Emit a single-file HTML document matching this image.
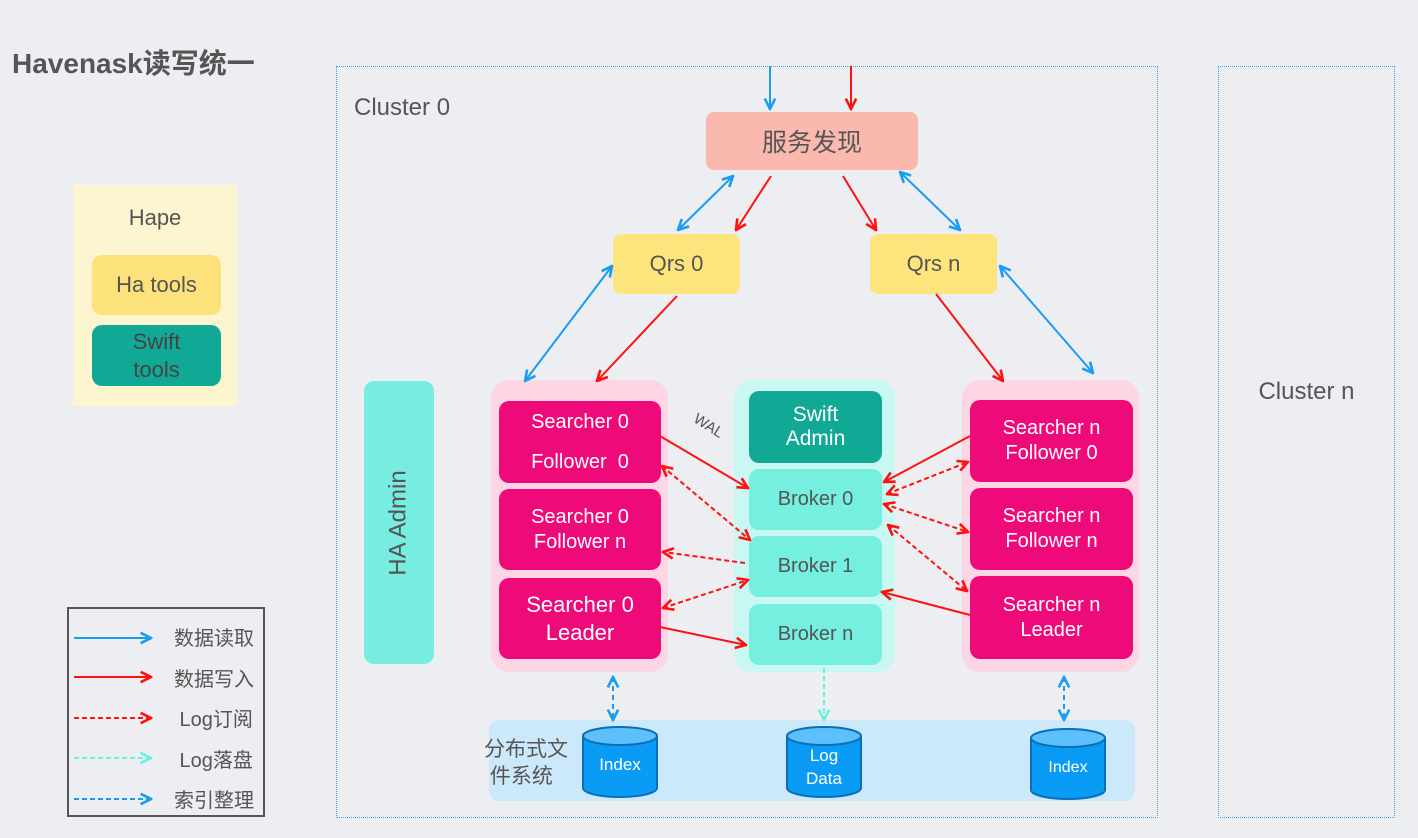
<!DOCTYPE html>
<html><head><meta charset="utf-8"><style>
body{margin:0;width:1418px;height:838px;background:#eceef2;position:relative;overflow:hidden;font-family:"Liberation Sans","Noto Sans CJK SC",sans-serif;}
.a{position:absolute;box-sizing:border-box;display:flex;align-items:center;justify-content:center;text-align:center;}
.s{background:#ee0a78;color:#fff;border-radius:10px;font-size:20px;line-height:25px;}
.b{background:#74efe0;color:#555;border-radius:10px;font-size:20px;}
</style></head><body>
<div style="position:absolute;left:12px;top:42px;font-size:28px;font-weight:bold;color:#555;">Havenask读写统一</div>
<div class="a" style="left:336px;top:66px;width:822px;height:752px;border:1px dotted #4a9ee8;"></div>
<div class="a" style="left:1218px;top:66px;width:177px;height:752px;border:1px dotted #4a9ee8;"></div>
<div class="a" style="left:1218px;top:376px;width:177px;height:32px;font-size:24px;color:#555;">Cluster n</div>
<div style="position:absolute;left:354px;top:94px;font-size:24px;color:#555;">Cluster 0</div>

<div class="a" style="left:73px;top:185px;width:164px;height:221px;background:#fdf5d0;align-items:flex-start;padding-top:20px;font-size:22px;color:#555;">Hape</div>
<div class="a" style="left:92px;top:255px;width:129px;height:60px;background:#fde17a;border-radius:10px;font-size:22px;color:#555;">Ha tools</div>
<div class="a" style="left:92px;top:325px;width:129px;height:61px;background:#12a896;border-radius:10px;font-size:22px;color:#444;line-height:28px;">Swift<br>tools</div>

<div class="a" style="left:706px;top:112px;width:212px;height:58px;background:#fbb8ae;border-radius:8px;font-size:25px;color:#555;">服务发现</div>
<div class="a" style="left:613px;top:234px;width:127px;height:60px;background:#fde47c;border-radius:8px;font-size:22px;color:#555;">Qrs 0</div>
<div class="a" style="left:870px;top:234px;width:127px;height:60px;background:#fde47c;border-radius:8px;font-size:22px;color:#555;">Qrs n</div>

<div class="a" style="left:364px;top:381px;width:70px;height:283px;background:#76ede0;border-radius:10px;"><div style="transform:rotate(-90deg);white-space:nowrap;font-size:24px;color:#555;">HA Admin</div></div>

<div class="a" style="left:491px;top:380px;width:177px;height:292px;background:#fdd6e6;border-radius:18px;"></div>
<div class="a s" style="left:499px;top:401px;width:162px;height:82px;line-height:40px;">Searcher 0<br>Follower&nbsp; 0</div>
<div class="a s" style="left:499px;top:489px;width:162px;height:81px;">Searcher 0<br>Follower n</div>
<div class="a s" style="left:499px;top:578px;width:162px;height:81px;font-size:22px;line-height:28px;">Searcher 0<br>Leader</div>

<div class="a" style="left:734px;top:380px;width:161px;height:292px;background:#c9f7f1;border-radius:18px;"></div>
<div class="a" style="left:749px;top:391px;width:133px;height:72px;background:#12a896;border-radius:10px;color:#fff;font-size:21px;line-height:24px;">Swift<br>Admin</div>
<div class="a b" style="left:749px;top:469px;width:133px;height:61px;">Broker 0</div>
<div class="a b" style="left:749px;top:536px;width:133px;height:61px;">Broker 1</div>
<div class="a b" style="left:749px;top:604px;width:133px;height:61px;">Broker n</div>

<div class="a" style="left:962px;top:380px;width:177px;height:292px;background:#fdd6e6;border-radius:18px;"></div>
<div class="a s" style="left:970px;top:400px;width:163px;height:82px;">Searcher n<br>Follower 0</div>
<div class="a s" style="left:970px;top:488px;width:163px;height:82px;">Searcher n<br>Follower n</div>
<div class="a s" style="left:970px;top:576px;width:163px;height:83px;">Searcher n<br>Leader</div>

<div class="a" style="left:489px;top:720px;width:646px;height:81px;background:#cce9fb;border-radius:10px;"></div>
<div style="position:absolute;left:484px;top:736px;font-size:21px;line-height:27px;color:#555;">分布式文<br>&nbsp;件系统</div>

<div class="a" style="left:67px;top:607px;width:198px;height:210px;border:2px solid #555;"></div>
<div style="position:absolute;left:174px;top:619px;font-size:20px;line-height:40.5px;color:#555;">数据读取<br>数据写入<br>&nbsp;Log订阅<br>&nbsp;Log落盘<br>索引整理</div>

<svg width="1418" height="838" style="position:absolute;left:0;top:0" viewBox="0 0 1418 838">
<defs>
<marker id="bl" viewBox="0 0 10 10" refX="9" refY="5" markerWidth="13" markerHeight="13" orient="auto-start-reverse" markerUnits="userSpaceOnUse"><path d="M1,1 L9,5 L1,9" fill="none" stroke="#1a9cf0" stroke-width="2"/></marker>
<marker id="rr" viewBox="0 0 10 10" refX="9" refY="5" markerWidth="13" markerHeight="13" orient="auto-start-reverse" markerUnits="userSpaceOnUse"><path d="M1,1 L9,5 L1,9" fill="none" stroke="#f11" stroke-width="2"/></marker>
<marker id="cy" viewBox="0 0 10 10" refX="9" refY="5" markerWidth="13" markerHeight="13" orient="auto" markerUnits="userSpaceOnUse"><path d="M1,1 L9,5 L1,9" fill="none" stroke="#6ef0e0" stroke-width="2"/></marker>
</defs>
<g stroke-width="2" fill="none">
<g stroke="#1a9cf0">
<line x1="770" y1="66" x2="770" y2="109" marker-end="url(#bl)"/>
<line x1="733" y1="176" x2="678" y2="230" marker-start="url(#bl)" marker-end="url(#bl)"/>
<line x1="900" y1="172" x2="960" y2="230" marker-start="url(#bl)" marker-end="url(#bl)"/>
<line x1="612" y1="266" x2="525" y2="381" marker-start="url(#bl)" marker-end="url(#bl)"/>
<line x1="1000" y1="266" x2="1093" y2="373" marker-start="url(#bl)" marker-end="url(#bl)"/>
<line x1="613" y1="677" x2="613" y2="720" stroke-dasharray="5,4" marker-start="url(#bl)" marker-end="url(#bl)"/>
<line x1="1064" y1="677" x2="1064" y2="720" stroke-dasharray="5,4" marker-start="url(#bl)" marker-end="url(#bl)"/>
<line x1="74" y1="638" x2="151" y2="638" marker-end="url(#bl)"/>
<line x1="74" y1="799" x2="151" y2="799" stroke-dasharray="5,3" marker-end="url(#bl)"/>
</g>
<g stroke="#f11">
<line x1="851" y1="66" x2="851" y2="109" marker-end="url(#rr)"/>
<line x1="771" y1="176" x2="736" y2="230" marker-end="url(#rr)"/>
<line x1="843" y1="176" x2="876" y2="230" marker-end="url(#rr)"/>
<line x1="677" y1="296" x2="597" y2="381" marker-end="url(#rr)"/>
<line x1="936" y1="294" x2="1003" y2="381" marker-end="url(#rr)"/>
<line x1="660" y1="436" x2="748" y2="488" marker-end="url(#rr)"/>
<line x1="660" y1="627" x2="746" y2="645" marker-end="url(#rr)"/>
<line x1="970" y1="436" x2="884" y2="482" marker-end="url(#rr)"/>
<line x1="970" y1="615" x2="882" y2="592" marker-end="url(#rr)"/>
<line x1="74" y1="677" x2="151" y2="677" marker-end="url(#rr)"/>
<g stroke-dasharray="5,3">
<line x1="662" y1="466" x2="750" y2="540" marker-start="url(#rr)" marker-end="url(#rr)"/>
<line x1="745" y1="563" x2="663" y2="552" marker-end="url(#rr)"/>
<line x1="663" y1="608" x2="748" y2="580" marker-start="url(#rr)" marker-end="url(#rr)"/>
<line x1="887" y1="494" x2="968" y2="462" marker-start="url(#rr)" marker-end="url(#rr)"/>
<line x1="884" y1="504" x2="968" y2="532" marker-start="url(#rr)" marker-end="url(#rr)"/>
<line x1="888" y1="525" x2="967" y2="591" marker-start="url(#rr)" marker-end="url(#rr)"/>
<line x1="74" y1="718" x2="151" y2="718" marker-end="url(#rr)"/>
</g>
</g>
<g stroke="#6ef0e0" stroke-dasharray="5,3">
<line x1="824" y1="668" x2="824" y2="720" marker-end="url(#cy)"/>
<line x1="74" y1="758" x2="151" y2="758" marker-end="url(#cy)"/>
</g>
</g>
<text x="688" y="427" transform="rotate(32 700 432)" font-size="15" fill="#555" font-family="Liberation Sans,sans-serif">WAL</text>
<g font-family="Liberation Sans,sans-serif" fill="#fff" text-anchor="middle" stroke-width="2">
<g stroke="#0a6fb8">
<path d="M583,736 v52 a37,9 0 0 0 74,0 v-52" fill="#0a9cf5"/><ellipse cx="620" cy="736" rx="37" ry="9" fill="#5ec0fb"/>
<path d="M787,736 v52 a37,9 0 0 0 74,0 v-52" fill="#0a9cf5"/><ellipse cx="824" cy="736" rx="37" ry="9" fill="#5ec0fb"/>
<path d="M1031,738 v52 a37,9 0 0 0 74,0 v-52" fill="#0a9cf5"/><ellipse cx="1068" cy="738" rx="37" ry="9" fill="#5ec0fb"/>
</g>
<text x="620" y="770" font-size="17">Index</text>
<text x="824" y="761" font-size="17">Log</text>
<text x="824" y="784" font-size="17">Data</text>
<text x="1068" y="772" font-size="16">Index</text>
</g>
</svg>
</body></html>
